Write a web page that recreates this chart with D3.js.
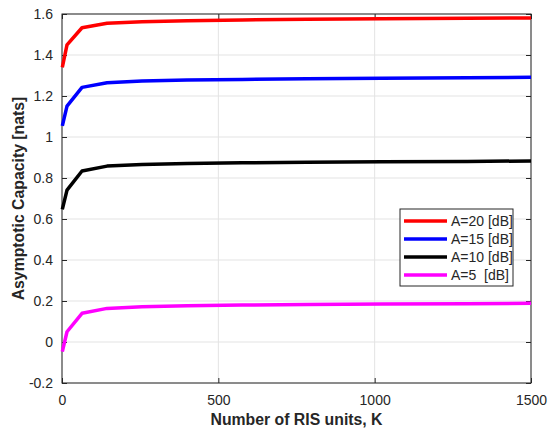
<!DOCTYPE html>
<html>
<head>
<meta charset="utf-8">
<script src="https://cdn.jsdelivr.net/npm/d3@7"></script>
<style>
  body { margin: 0; background: #fff; }
  text { font-family: "Liberation Sans", Arial, sans-serif; fill: #262626; }
</style>
</head>
<body>
<div id="main"></div>
<script>
// number of RIS units K
const K = [1, 16, 64, 144, 256, 400, 576, 784, 1024, 1296, 1500];

// asymptotic capacity per SNR level
const capA20 = [1.340, 1.449, 1.533, 1.555, 1.562, 1.567, 1.571, 1.574, 1.577, 1.579, 1.581];
const capA15 = [1.054, 1.151, 1.242, 1.265, 1.273, 1.278, 1.281, 1.284, 1.287, 1.289, 1.291];
const capA10 = [0.647, 0.741, 0.834, 0.858, 0.866, 0.871, 0.874, 0.877, 0.879, 0.881, 0.883];
const capA5  = [-0.047, 0.050, 0.140, 0.164, 0.172, 0.177, 0.180, 0.183, 0.185, 0.187, 0.189];

const seriesNames = ["A=20 [dB]", "A=15 [dB]", "A=10 [dB]", "A=5  [dB]"];
const seriesColors = ["#ff0000", "#0000ff", "#000000", "#ff00ff"];
const seriesValues = [capA20, capA15, capA10, capA5];

const xTicks = [0, 500, 1000, 1500];
const yTicks = [-0.2, 0, 0.2, 0.4, 0.6, 0.8, 1, 1.2, 1.4, 1.6];

const config = {width: 550, height: 436, left: 62, right: 19, top: 14, bottom: 53};
const W = config.width, H = config.height;
const axisCol = "#262626";

const svg = d3.select("#main").append("svg")
    .attr("width", W).attr("height", H);

const x = d3.scaleLinear().domain([0, 1500])
    .range([config.left, W - config.right]);
const y = d3.scaleLinear().domain([-0.2, 1.6])
    .range([H - config.bottom, config.top]);

// grid lines
const grid = svg.append("g");
grid.selectAll("line.gy").data(yTicks).enter().append("line")
    .attr("x1", x(0)).attr("x2", x(1500))
    .attr("y1", d => y(d)).attr("y2", d => y(d))
    .attr("stroke", "#e3e3e3").attr("stroke-width", 1);
grid.selectAll("line.gx").data(xTicks).enter().append("line")
    .attr("y1", y(-0.2)).attr("y2", y(1.6))
    .attr("x1", d => x(d)).attr("x2", d => x(d))
    .attr("stroke", "#e3e3e3").attr("stroke-width", 1);

// axes (MATLAB style, ticks pointing in)
const fmtY = d => (d === 0 ? "0" : String(Math.round(d * 10) / 10));
function styleAxis(g) {
  g.select(".domain").remove();
  g.selectAll(".tick line").attr("stroke", axisCol);
  g.selectAll(".tick text").style("font-size", "14px").attr("fill", axisCol);
}
svg.append("g").attr("transform", `translate(0,${y(-0.2)})`)
    .call(d3.axisBottom(x).tickValues(xTicks).tickFormat(d3.format("d"))
      .tickSizeInner(-5).tickSizeOuter(0).tickPadding(12))
    .call(styleAxis);
svg.append("g").attr("transform", `translate(${x(0)},0)`)
    .call(d3.axisLeft(y).tickValues(yTicks).tickFormat(fmtY).tickSizeInner(-5).tickSizeOuter(0).tickPadding(9))
    .call(styleAxis);
svg.append("g").attr("transform", `translate(0,${y(1.6)})`)
    .call(d3.axisTop(x).tickValues(xTicks).tickSizeInner(-5).tickSizeOuter(0).tickFormat(""))
    .call(styleAxis);
svg.append("g").attr("transform", `translate(${x(1500)},0)`)
    .call(d3.axisRight(y).tickValues(yTicks).tickSizeInner(-5).tickSizeOuter(0).tickFormat(""))
    .call(styleAxis);

// box
svg.append("rect")
    .attr("x", x(0)).attr("y", y(1.6))
    .attr("width", x(1500) - x(0)).attr("height", y(-0.2) - y(1.6))
    .attr("fill", "none").attr("stroke", axisCol).attr("stroke-width", 1);

// curves
const line = d3.line().x((d, i) => x(K[i])).y(d => y(d));
svg.append("g").selectAll("path").data(seriesValues).enter().append("path")
    .attr("d", line)
    .attr("fill", "none")
    .attr("stroke", (d, i) => seriesColors[i])
    .attr("stroke-width", 3.5)
    .attr("stroke-linejoin", "round");

// axis labels
svg.append("text")
    .attr("x", (x(0) + x(1500)) / 2).attr("y", 425)
    .attr("text-anchor", "middle")
    .style("font-size", "15.8px").style("font-weight", "bold")
    .text("Number of RIS units, K");
svg.append("text")
    .attr("transform", `translate(24,${(y(-0.2) + y(1.6)) / 2}) rotate(-90)`)
    .attr("text-anchor", "middle")
    .style("font-size", "15.8px").style("font-weight", "bold")
    .text("Asymptotic Capacity [nats]");

// legend
const leg = svg.append("g").attr("transform", "translate(400,209)");
leg.append("rect")
    .attr("width", 113).attr("height", 77)
    .attr("fill", "#fff").attr("stroke", axisCol).attr("stroke-width", 1);
const items = leg.selectAll("g.item").data(seriesNames).enter().append("g")
    .attr("transform", (d, i) => `translate(0,${12 + i * 18})`);
items.append("line")
    .attr("x1", 4).attr("x2", 47)
    .attr("stroke", (d, i) => seriesColors[i]).attr("stroke-width", 3.5);
items.append("text")
    .attr("x", 51).attr("dy", "0.35em")
    .style("font-size", "14px")
    .attr("xml:space", "preserve")
    .text(d => d);
</script>
</body>
</html>
